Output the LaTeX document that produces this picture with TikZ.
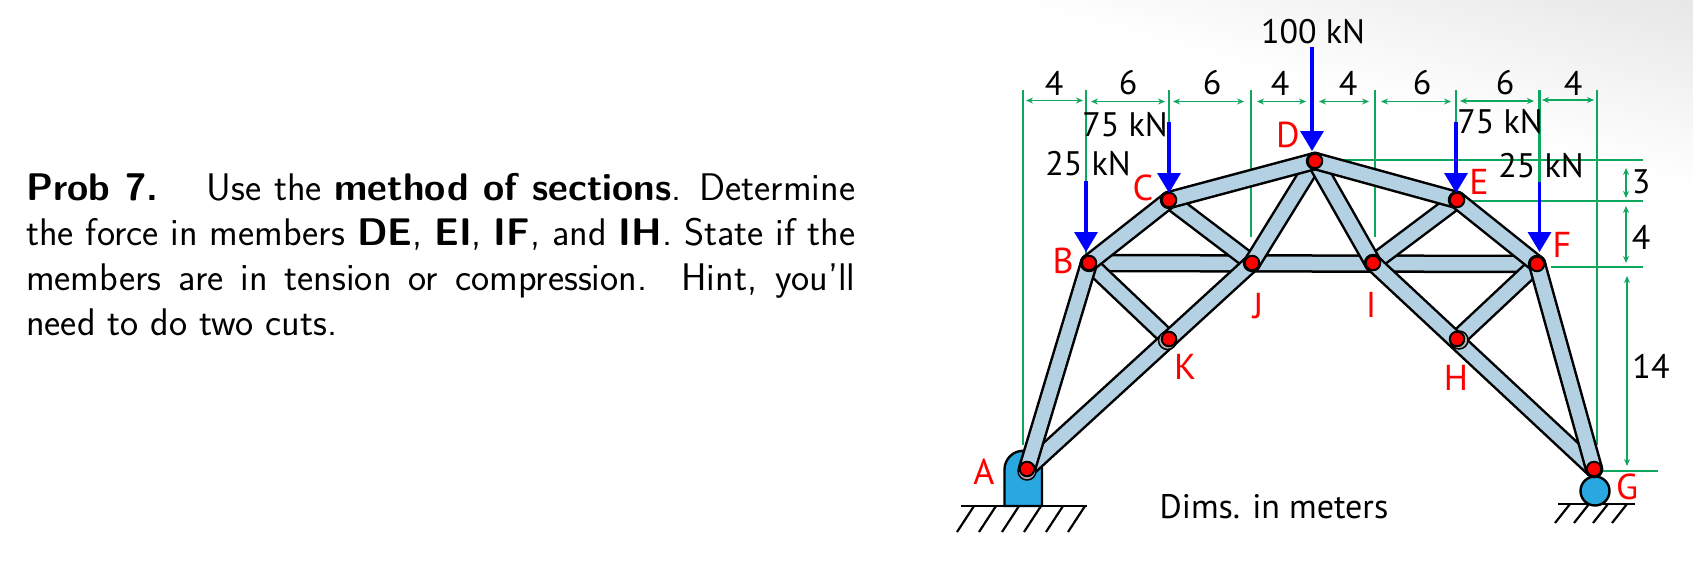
\documentclass[tikz,border=0pt]{standalone}
\usepackage{fontspec}
\usetikzlibrary{arrows.meta}
\newfontfamily\dgfont{PT Sans}
\definecolor{dimgreen}{HTML}{0DA85E}
\definecolor{barblue}{HTML}{B3D1E2}
\definecolor{supblue}{HTML}{29A8E0}
\definecolor{pinred}{HTML}{FF0000}
\definecolor{loadblue}{HTML}{0000FF}
\newcommand\member[2]{%
  \draw[barout] (#1) -- (#2);
  \draw[barin] (#1) -- (#2);}
\newcommand\dimarr[5]{%
  \coordinate (#1a) at (#2,#3);
  \coordinate (#1b) at (#4,#5);
  \draw[dimarrow] (#1a) -- (#1b);}
\newcommand\gline[5]{%
  \coordinate (#1a) at (#2,#3);
  \coordinate (#1b) at (#4,#5);
  \draw[guide] (#1a) -- (#1b);}
\newcommand\loadarr[5]{%
  \coordinate (#1a) at (#2,#3);
  \coordinate (#1b) at (#4,#5);
  \draw[loadarrow] (#1a) -- (#1b);}
\tikzset{
  x=1pt,y=-1pt,
  guide/.style={draw=dimgreen,line width=2.7pt},
  dimarrow/.style={draw=dimgreen,line width=1.6pt,{Stealth[length=7pt,width=6pt]}-{Stealth[length=7pt,width=6pt]}},
  loadarrow/.style={draw=loadblue,line width=3.2pt,-{Triangle[length=20pt,width=23pt]}},
  barout/.style={draw=black,line width=18.5pt,line cap=round},
  barin/.style={draw=barblue,line width=13.5pt,line cap=round},
  pinnode/.style={circle,draw=black,fill=pinred,line width=2pt,minimum size=14.5pt,inner sep=0pt},
  pinshadow/.style={circle,draw=black,fill=gray!60,line width=1.5pt,minimum size=18pt,inner sep=0pt},
  lab/.style={font=\dgfont\fontsize{34}{34}\selectfont,inner sep=0pt,text=black},
  redlab/.style={font=\dgfont\fontsize{36}{36}\selectfont,inner sep=0pt,text=pinred},
  ground/.style={draw=black,line width=2.4pt},
  hatchline/.style={draw=black,line width=2.2pt},
}
\begin{document}
\begin{tikzpicture}
\useasboundingbox (0,0) rectangle (1693,567);
\fill[white] (0,0) rectangle (1693,567);
% soft grey gradient, top right
\begin{scope}
\clip (1000,0) rectangle (1693,200);
\foreach \k in {0,...,35}{
  \pgfmathsetmacro{\s}{5.5*\k}
  \pgfmathsetmacro{\c}{0.28*\k}
  \fill[black!\c!white] (900,-35+10-\s) -- (1693,190-\s) -- (1693,-200) -- (900,-200) -- cycle;
}
\end{scope}
% joints
\coordinate (A) at (1027,469);
\coordinate (B) at (1089,263);
\coordinate (C) at (1169,200);
\coordinate (D) at (1315,161);
\coordinate (E) at (1457,200);
\coordinate (F) at (1537,264);
\coordinate (G) at (1594,469);
\coordinate (H) at (1457,339);
\coordinate (I) at (1373,263);
\coordinate (J) at (1252,263);
\coordinate (K) at (1169,339);
% green guides
\gline{v1}{1023}{90}{1023}{445}
\gline{v2}{1086}{90}{1086}{254}
\gline{v3}{1169}{90}{1169}{125}
\gline{v4}{1251}{90}{1251}{237}
\gline{v5}{1375}{90}{1375}{237}
\gline{v6}{1456}{90}{1456}{125}
\gline{v7}{1539.5}{90}{1539.5}{185}
\gline{v8}{1597}{90}{1597}{445}
\gline{h1}{1325}{160}{1643}{160}
\gline{h2}{1468}{201}{1643}{201}
\gline{h3}{1551}{267}{1643}{267}
\gline{h4}{1602}{471}{1658}{471}
% dimension arrows
\dimarr{t1}{1026}{100.5}{1083}{100.5}
\dimarr{t2}{1091}{101.5}{1165}{101.5}
\dimarr{t3}{1173}{101.5}{1244}{101.5}
\dimarr{t4}{1257}{101.5}{1306}{101.5}
\dimarr{t5}{1319}{101.5}{1369}{101.5}
\dimarr{t6}{1381}{101.5}{1451}{101.5}
\dimarr{t7}{1460}{101}{1534}{101}
\dimarr{t8}{1542}{100}{1594}{100}
\dimarr{r1}{1626}{168}{1626}{198}
\dimarr{r2}{1626}{206}{1626}{263}
\dimarr{r3}{1627}{276}{1627}{466}
% support A
\filldraw[fill=supblue,draw=black,line width=2.4pt] (1004.5,506) -- (1004.5,469.5) arc[start angle=180,end angle=360,radius=18.75] -- (1042,506) -- cycle;
% ground A
\coordinate (gAa) at (961,506);
\coordinate (gAb) at (1087,506);
\draw[ground] (gAa) -- (gAb);
\foreach \i/\x in {1/974,2/996,3/1019,4/1041,5/1063,6/1085}{
  \coordinate (ha\i) at (\x,506);
  \coordinate (hb\i) at (\x-17,532);
  \draw[hatchline] (ha\i) -- (hb\i);
}
% ground G
\coordinate (gGa) at (1558,504);
\coordinate (gGb) at (1635,504);
\draw[ground] (gGa) -- (gGb);
\foreach \i/\x in {7/1570,8/1589,9/1608,10/1627}{
  \coordinate (ha\i) at (\x,504);
  \coordinate (hb\i) at (\x-15,523);
  \draw[hatchline] (ha\i) -- (hb\i);
}
\node[circle,draw=black,fill=supblue,line width=2.4pt,minimum size=29pt,inner sep=0pt] (roller) at (1595,491) {};
% members
\member{B}{F}
\member{B}{K}
\member{C}{J}
\member{E}{I}
\member{H}{F}
\member{A}{J}
\member{J}{D}
\member{D}{I}
\member{I}{G}
\member{A}{B}
\member{B}{C}
\member{C}{D}
\member{D}{E}
\member{E}{F}
\member{F}{G}
% pins
\node[pinshadow] (sA) at (1027,471) {};
\node[pinshadow] (sK) at (1167.5,340.5) {};
\node[pinshadow] (sH) at (1459,340) {};
\foreach \p in {A,B,C,D,E,F,G,H,I,J,K}{\node[pinnode] (p\p) at (\p) {};}
% loads
\loadarr{l1}{1312}{47}{1312}{151}
\loadarr{l2}{1169}{122}{1169}{193}
\loadarr{l3}{1086}{181}{1086}{252}
\loadarr{l4}{1456}{122}{1456}{193}
\loadarr{l5}{1539.5}{182}{1539.5}{252}
% labels
\node[lab] (n100) at (1313,32) {100 kN};
\node[lab] (n75a) at (1125,125) {75 kN};
\node[lab] (n25a) at (1088,164) {25 kN};
\node[lab] (n75b) at (1500,122) {75 kN};
\node[lab] (n25b) at (1541,166) {25 kN};
\node[lab] (d1) at (1054,83) {4};
\node[lab] (d2) at (1128,83) {6};
\node[lab] (d3) at (1212,83) {6};
\node[lab] (d4) at (1280,83) {4};
\node[lab] (d5) at (1348,83) {4};
\node[lab] (d6) at (1422,83) {6};
\node[lab] (d7) at (1505,83) {6};
\node[lab] (d8) at (1573,83) {4};
\node[lab] (d9) at (1641,182) {3};
\node[lab] (d10) at (1641,237) {4};
\node[lab] (d11) at (1651,366) {14};
\node[lab] (dims) at (1274,507) {Dims. in meters};
\node[redlab] (tA) at (984,472) {A};
\node[redlab] (tB) at (1063,261) {B};
\node[redlab] (tC) at (1143,188) {C};
\node[redlab] (tD) at (1288,135) {D};
\node[redlab] (tE) at (1479,182) {E};
\node[redlab] (tF) at (1562,245) {F};
\node[redlab] (tG) at (1627,487) {G};
\node[redlab] (tH) at (1456,378) {H};
\node[redlab] (tI) at (1371,305) {I};
\node[redlab] (tJ) at (1258,306) {J};
\node[redlab] (tK) at (1185,367) {K};
% problem text
\node[anchor=north west,inner sep=0pt,text width=829pt,align=justify,font=\sffamily\fontsize{38.5}{45}\selectfont] (prob) at (26,173) {%
\textbf{Prob 7.}\hspace{.8em} Use the \textbf{method of sections}. Determine\linebreak
the force in members \textbf{DE}, \textbf{EI}, \textbf{IF}, and \textbf{IH}. State if the\linebreak
members are in tension or compression.\ \ Hint, you'll\linebreak
need to do two cuts.};
\end{tikzpicture}
\end{document}
